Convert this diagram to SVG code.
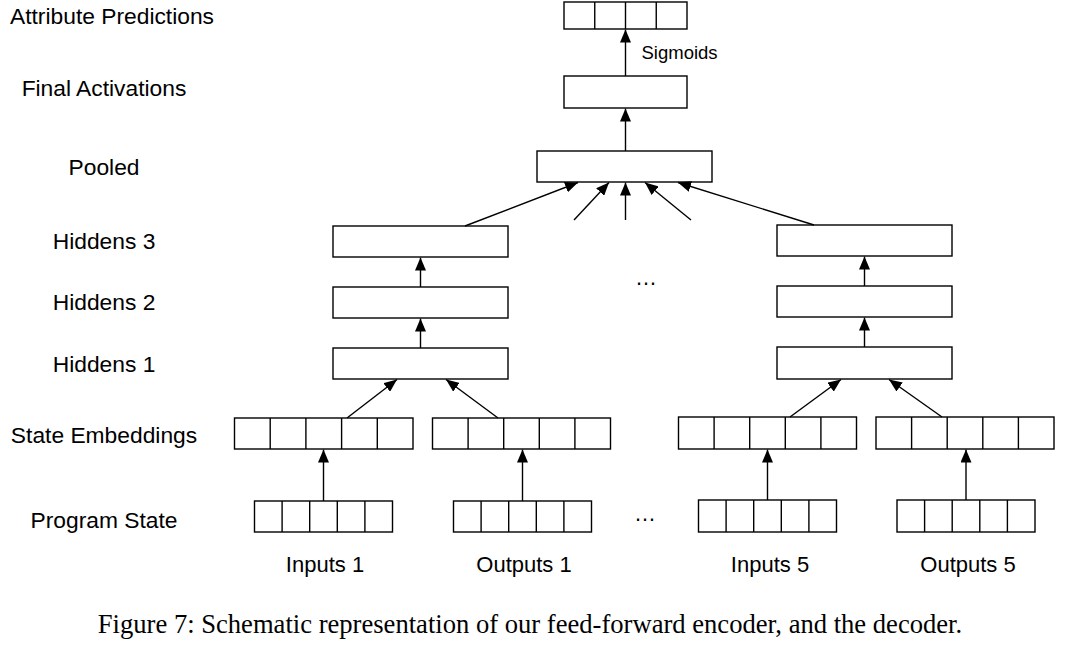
<svg xmlns="http://www.w3.org/2000/svg" width="1070" height="648" viewBox="0 0 1070 648">
<style>
.box{fill:#fff;stroke:#000;stroke-width:1.4}
.div{stroke:#000;stroke-width:1.4}
.lbl{font-family:"Liberation Sans",Arial,sans-serif;font-size:22.8px;fill:#000}
.sub{font-family:"Liberation Sans",Arial,sans-serif;font-size:22px;fill:#000}
.sig{font-family:"Liberation Sans",Arial,sans-serif;font-size:18.5px;fill:#000}
.cap{font-family:"Liberation Serif","Times New Roman",serif;font-size:26.6px;fill:#000}
.arr{stroke:#000;stroke-width:1.4;fill:none;marker-end:url(#ah)}
</style>
<defs>
<marker id="ah" markerUnits="userSpaceOnUse" markerWidth="13" markerHeight="11" refX="13" refY="5.5" orient="auto">
<path d="M0,0 L13,5.5 L0,11 z" fill="#000"/>
</marker>
</defs>
<rect width="1070" height="648" fill="#fff"/>

<g id="labels">
<text class="lbl" x="10" y="24">Attribute Predictions</text>
<text class="lbl" x="104" y="96" text-anchor="middle">Final Activations</text>
<text class="lbl" x="104" y="175" text-anchor="middle">Pooled</text>
<text class="lbl" x="104" y="249" text-anchor="middle">Hiddens 3</text>
<text class="lbl" x="104" y="310" text-anchor="middle">Hiddens 2</text>
<text class="lbl" x="104" y="372" text-anchor="middle">Hiddens 1</text>
<text class="lbl" x="104" y="443" text-anchor="middle">State Embeddings</text>
<text class="lbl" x="104" y="528" text-anchor="middle">Program State</text>
</g>

<g id="predictions">
<rect class="box" x="564" y="2" width="123" height="27"/>
<line class="div" x1="594.75" y1="2" x2="594.75" y2="29"/>
<line class="div" x1="625.5" y1="2" x2="625.5" y2="29"/>
<line class="div" x1="656.25" y1="2" x2="656.25" y2="29"/>
</g>
<g id="final"><rect class="box" x="564" y="76" width="123" height="32"/></g>
<g id="pooled"><rect class="box" x="537" y="151" width="175" height="31"/></g>

<g id="h3-left"><rect class="box" x="333" y="226" width="175" height="31"/></g>
<g id="h2-left"><rect class="box" x="333" y="287" width="175" height="31"/></g>
<g id="h1-left"><rect class="box" x="333" y="348" width="175" height="31"/></g>
<g id="h3-right"><rect class="box" x="777" y="225" width="175" height="31"/></g>
<g id="h2-right"><rect class="box" x="777" y="286" width="175" height="31"/></g>
<g id="h1-right"><rect class="box" x="777" y="347" width="175" height="32"/></g>

<g id="emb-in1">
<rect class="box" x="234.5" y="418" width="178.5" height="31"/>
<line class="div" x1="270.2" y1="418" x2="270.2" y2="449"/>
<line class="div" x1="305.9" y1="418" x2="305.9" y2="449"/>
<line class="div" x1="341.6" y1="418" x2="341.6" y2="449"/>
<line class="div" x1="377.3" y1="418" x2="377.3" y2="449"/>
</g>
<g id="emb-out1">
<rect class="box" x="432.5" y="418" width="178" height="31"/>
<line class="div" x1="468.1" y1="418" x2="468.1" y2="449"/>
<line class="div" x1="503.7" y1="418" x2="503.7" y2="449"/>
<line class="div" x1="539.3" y1="418" x2="539.3" y2="449"/>
<line class="div" x1="574.9" y1="418" x2="574.9" y2="449"/>
</g>
<g id="emb-in5">
<rect class="box" x="678.5" y="417" width="178" height="32"/>
<line class="div" x1="714.1" y1="417" x2="714.1" y2="449"/>
<line class="div" x1="749.7" y1="417" x2="749.7" y2="449"/>
<line class="div" x1="785.3" y1="417" x2="785.3" y2="449"/>
<line class="div" x1="820.9" y1="417" x2="820.9" y2="449"/>
</g>
<g id="emb-out5">
<rect class="box" x="876" y="417" width="178" height="32"/>
<line class="div" x1="911.6" y1="417" x2="911.6" y2="449"/>
<line class="div" x1="947.2" y1="417" x2="947.2" y2="449"/>
<line class="div" x1="982.8" y1="417" x2="982.8" y2="449"/>
<line class="div" x1="1018.4" y1="417" x2="1018.4" y2="449"/>
</g>

<g id="state-in1">
<rect class="box" x="254.5" y="501" width="138" height="31"/>
<line class="div" x1="282.1" y1="501" x2="282.1" y2="532"/>
<line class="div" x1="309.7" y1="501" x2="309.7" y2="532"/>
<line class="div" x1="337.3" y1="501" x2="337.3" y2="532"/>
<line class="div" x1="364.9" y1="501" x2="364.9" y2="532"/>
</g>
<g id="state-out1">
<rect class="box" x="453.5" y="501" width="138" height="31"/>
<line class="div" x1="481.1" y1="501" x2="481.1" y2="532"/>
<line class="div" x1="508.7" y1="501" x2="508.7" y2="532"/>
<line class="div" x1="536.3" y1="501" x2="536.3" y2="532"/>
<line class="div" x1="563.9" y1="501" x2="563.9" y2="532"/>
</g>
<g id="state-in5">
<rect class="box" x="698.5" y="500" width="138" height="32"/>
<line class="div" x1="726.1" y1="500" x2="726.1" y2="532"/>
<line class="div" x1="753.7" y1="500" x2="753.7" y2="532"/>
<line class="div" x1="781.3" y1="500" x2="781.3" y2="532"/>
<line class="div" x1="808.9" y1="500" x2="808.9" y2="532"/>
</g>
<g id="state-out5">
<rect class="box" x="897" y="500" width="138" height="32"/>
<line class="div" x1="924.6" y1="500" x2="924.6" y2="532"/>
<line class="div" x1="952.2" y1="500" x2="952.2" y2="532"/>
<line class="div" x1="979.8" y1="500" x2="979.8" y2="532"/>
<line class="div" x1="1007.4" y1="500" x2="1007.4" y2="532"/>
</g>

<g id="connectors">
<line class="arr" x1="625.5" y1="76" x2="625.5" y2="29.5"/>
<line class="arr" x1="625.5" y1="151" x2="625.5" y2="108.5"/>
<line class="arr" x1="465" y1="226" x2="578" y2="182.5"/>
<line class="arr" x1="574" y1="220" x2="609" y2="182.5"/>
<line class="arr" x1="625.5" y1="220" x2="625.5" y2="182.5"/>
<line class="arr" x1="691" y1="220" x2="645" y2="182.5"/>
<line class="arr" x1="814" y1="225" x2="678" y2="182.5"/>
<line class="arr" x1="420.5" y1="287" x2="420.5" y2="257.5"/>
<line class="arr" x1="420.5" y1="348" x2="420.5" y2="318.5"/>
<line class="arr" x1="864.5" y1="286" x2="864.5" y2="256.5"/>
<line class="arr" x1="864.5" y1="347" x2="864.5" y2="317.5"/>
<line class="arr" x1="347" y1="418" x2="397" y2="379.5"/>
<line class="arr" x1="498" y1="418" x2="446" y2="379.5"/>
<line class="arr" x1="790" y1="417" x2="841" y2="379.5"/>
<line class="arr" x1="942" y1="417" x2="889" y2="379.5"/>
<line class="arr" x1="323.5" y1="501" x2="323.5" y2="449.5"/>
<line class="arr" x1="522.5" y1="501" x2="522.5" y2="449.5"/>
<line class="arr" x1="767.5" y1="500" x2="767.5" y2="449.5"/>
<line class="arr" x1="966" y1="500" x2="966" y2="449.5"/>
</g>

<text class="sig" x="641.5" y="59">Sigmoids</text>
<text class="sub" x="635" y="285">…</text>
<text class="sub" x="634" y="521">…</text>
<text class="sub" x="325" y="572" text-anchor="middle">Inputs 1</text>
<text class="sub" x="524" y="572" text-anchor="middle">Outputs 1</text>
<text class="sub" x="770" y="572" text-anchor="middle">Inputs 5</text>
<text class="sub" x="968" y="572" text-anchor="middle">Outputs 5</text>
<text class="cap" x="530" y="633" text-anchor="middle">Figure 7: Schematic representation of our feed-forward encoder, and the decoder.</text>
</svg>
